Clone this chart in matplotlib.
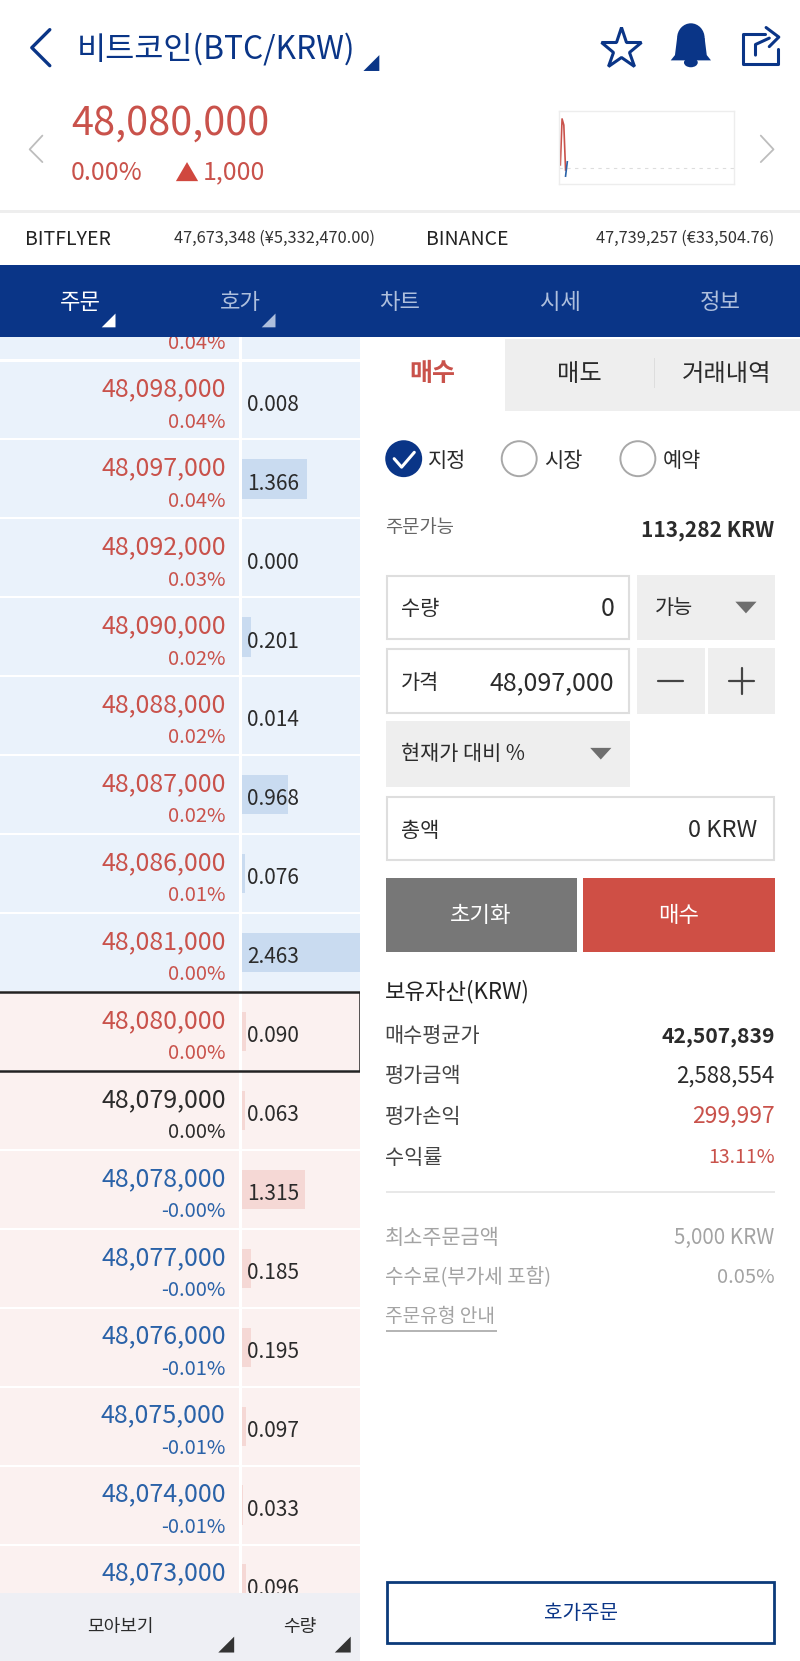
import matplotlib
matplotlib.use("Agg")
import matplotlib.pyplot as plt
from matplotlib.patches import Rectangle, Polygon, Circle, Ellipse

plt.rcParams['font.family'] = ['Noto Sans CJK KR', 'DejaVu Sans']

# ---------- data ----------
prices = ["", "48,098,000", "48,097,000", "48,092,000", "48,090,000", "48,088,000", "48,087,000", "48,086,000",
          "48,081,000", "48,080,000", "48,079,000", "48,078,000", "48,077,000", "48,076,000",
          "48,075,000", "48,074,000", "48,073,000"]
pcts = ["0.04%", "0.04%", "0.04%", "0.03%", "0.02%", "0.02%", "0.02%", "0.01%", "0.00%", "0.00%", "0.00%",
        "-0.00%", "-0.00%", "-0.01%", "-0.01%", "-0.01%", ""]
volumes = [None, 0.008, 1.366, 0.000, 0.201, 0.014, 0.968, 0.076, 2.463, 0.090, 0.063, 1.315, 0.185, 0.195, 0.097, 0.033, 0.096]
price_kinds = ["up"] * 10 + ["flat"] + ["down"] * 6
row_sides = ["buy"] * 9 + ["sell"] * 8

spark_red_x = [0, 1, 2, 3]
spark_red_y = [10, 100, 88, 0]
spark_blue_x = [3, 4]
spark_blue_y = [-12, 16]

tabs = ["주문", "호가", "차트", "시세", "정보"]
holdings = [("매수평균가", "42,507,839"), ("평가금액", "2,588,554"), ("평가손익", "299,997"), ("수익률", "13.11%")]
holding_sizes = [15.2, 16, 16.4, 14]
fees = [("최소주문금액", "5,000 KRW"), ("수수료(부가세 포함)", "0.05%")]

# ---------- colours ----------
NAVY = "#0A3587"
RED = "#C9524B"
BLUE = "#2A62A8"
INK = "#2B2B2B"
GREY = "#EEEEEE"
MUTED = "#A3A3A3"
W, H = 755.0, 1568.0
FW = "light"

fig = plt.figure(figsize=(8.0, 16.61), dpi=100, facecolor="white")
ui = fig.add_axes([0, 0, 1, 1], zorder=1)
ui.set_xlim(0, W); ui.set_ylim(H, 0); ui.axis("off")


def T(x, y, s, size=14, color=INK, ha="left", weight=FW, ax=ui, **kw):
    return ax.text(x, y + 2, s, fontsize=size, color=color, ha=ha, va="center", fontweight=weight, **kw)


def R(x0, y0, x1, y1, fc="none", ec="none", lw=0, ax=ui, z=1):
    ax.add_patch(Rectangle((x0, y0), x1 - x0, y1 - y0, fc=fc, ec=ec, lw=lw, zorder=z))


def TRI(x, y, s, color, ax=ui):  # lower-right corner triangle
    ax.add_patch(Polygon([(x, y), (x - s, y), (x, y - s)], closed=True, fc=color, ec="none", zorder=3))


def L(xs, ys, color, lw=1.5, **kw):
    ui.plot(xs, ys, color=color, lw=lw, solid_capstyle="round", solid_joinstyle="round", **kw)


# ---------- header ----------
L([47, 30, 47], [28, 45, 62], NAVY, 2.4)
T(72, 44, "비트코인(BTC/KRW)", 22.8, NAVY)
TRI(358, 67, 15, NAVY)
ui.plot([586], [46], marker="*", ms=31, mfc="white", mec=NAVY, mew=2.2)
# bell
ui.add_patch(Ellipse((652, 36), 26, 28, fc=NAVY, ec="none"))
ui.add_patch(Polygon([(639, 36), (665, 36), (667, 52), (671, 57), (633, 57), (637, 52)], fc=NAVY, ec="none"))
ui.add_patch(Ellipse((652, 59), 13, 9, fc=NAVY, ec="none"))
# share
L([722, 701, 701, 734, 734], [32, 32, 60, 60, 46], NAVY, 2.2)
L([713, 713, 726], [52, 42, 36], NAVY, 2.2)
L([723, 735, 726], [26, 35, 44], NAVY, 2.2)

T(67, 115, "48,080,000", 28.5, RED)
T(67, 161, "0.00%", 18, RED)
ui.add_patch(Polygon([(166, 171), (187, 171), (176.5, 153)], fc="#D0483F", ec="none"))
T(191, 161, "1,000", 18, RED)
L([40, 28, 40], [128, 141, 153], "#BDBDBD", 1.3)
L([718, 730, 718], [128, 141, 153], "#BDBDBD", 1.3)

# sparkline
sp = fig.add_axes([528 / W, 1 - 174 / H, 165 / W, 69 / H], zorder=2)
sp.set_xlim(-0.5, 100); sp.set_ylim(-28, 115)
sp.set_xticks([]); sp.set_yticks([])
for s in sp.spines.values():
    s.set_color("#EDEDED"); s.set_linewidth(1)
sp.axhline(4, color="#DDDDDD", lw=0.8, ls=(0, (3, 4)))
sp.plot(spark_red_x, spark_red_y, color="#C9524B", lw=1.2)
sp.plot(spark_blue_x, spark_blue_y, color="#2A62A8", lw=1.2)

R(0, 198, W, 201, fc="#EEEEEE")
T(24, 224, "BITFLYER", 14, "#222222", weight="normal")
T(354, 223, "47,673,348 (¥5,332,470.00)", 11.8, "#333333", ha="right")
T(402, 224, "BINANCE", 14, "#222222", weight="normal")
T(731, 223, "47,739,257 (€33,504.76)", 11.8, "#333333", ha="right")

# ---------- nav band ----------
R(0, 250, W, 318, fc=NAVY)
for i, (cx, s) in enumerate(zip([76, 227, 377, 529, 680], tabs)):
    T(cx, 284, s, 16, "white" if i == 0 else "#AEBFDD", ha="center", weight="normal" if i == 0 else FW)
TRI(109, 309, 13, "white")
TRI(260, 309, 13, "#AEBFDD")

# ---------- order book (own axes: x = volume, y = row) ----------
PITCH = 74.53
PX_PER_UNIT = 112 / 2.463
bk = fig.add_axes([0, 1 - 1504 / H, 340 / W, (1504 - 318) / H], zorder=2)
x_left = -228 / PX_PER_UNIT
x_right = 2.463
row0_y = 303.0  # screen centre of first, clipped, row
bk.set_xlim(x_left, x_right)
bk.set_ylim((1504 - row0_y) / PITCH, (318 - row0_y) / PITCH)
bk.axis("off")
gap = 2 / PITCH
for i in range(len(prices)):
    bg = "#EAF2FB" if row_sides[i] == "buy" else "#FBF1F0"
    bk.barh(i, -x_left - 2 / PX_PER_UNIT, left=x_left, height=1 - gap, color=bg, zorder=1)
    bk.barh(i, x_right, left=0, height=1 - gap, color=bg, zorder=1)
    v = volumes[i]
    if v is not None:
        bk.barh(i, v, left=0, height=0.5, color="#C9DBF0" if row_sides[i] == "buy" else "#F5D8D5", zorder=2)
        bk.text(5.5 / PX_PER_UNIT, i + 4.5 / PITCH, f"{v:.3f}", fontsize=15, color=INK, va="center", ha="left",
                fontweight=FW, clip_on=True, zorder=4)
    col = {"up": RED, "flat": INK, "down": BLUE}[price_kinds[i]]
    if prices[i]:
        bk.text(-15 / PX_PER_UNIT, i - 10 / PITCH, prices[i], fontsize=18, color=col, va="center", ha="right",
                fontweight=FW, clip_on=True, zorder=4)
    if pcts[i]:
        bk.text(-15 / PX_PER_UNIT, i + 21 / PITCH, pcts[i], fontsize=14.5, color=col, va="center", ha="right",
                fontweight=FW, clip_on=True, zorder=4)
# current-price outline
cur = prices.index("48,080,000")
bk.add_patch(Rectangle((x_left - 0.1, cur - 0.5), x_right - x_left + 0.1 - 0.01, 1.0, fc="none", ec="#222222", lw=1.8, zorder=5, clip_on=True))

# bottom strip
R(0, 1504, 340, H, fc="#EEEFF4")
T(114, 1534, "모아보기", 13, INK, ha="center")
T(283, 1534, "수량", 13, INK, ha="center")
TRI(221, 1560, 15, "#333333")
TRI(331, 1560, 15, "#333333")

# ---------- order panel ----------
R(477, 320, W, 388, fc=GREY)
R(617, 338, 618.5, 366, fc="#DDDDDD")
T(408, 351, "매수", 18, RED, ha="center", weight="bold")
T(547, 351, "매도", 17.5, INK, ha="center")
T(686, 351, "거래내역", 17.5, INK, ha="center")

for cx, s, on in [(381, "지정", True), (490, "시장", False), (602, "예약", False)]:
    ui.add_patch(Circle((cx, 433), 16.5, fc=NAVY if on else "white", ec=NAVY if on else "#A8A8A8", lw=1.4, zorder=2))
    T(cx + 23, 433, s, 15, INK)
L([372, 379, 391], [433, 441, 427], "white", 2.2, zorder=3)

T(363, 496, "주문가능", 13.5, "#666666")
T(731, 499, "113,282 KRW", 15, INK, ha="right", weight="bold")


def box(x0, y0, x1, y1):
    R(x0, y0, x1, y1, fc="white", ec="#DEDEDE", lw=1.5)


box(365, 544, 594, 603)
R(601, 543, 731, 604, fc=GREY)
T(378, 573, "수량", 15)
T(580, 573, "0", 18, ha="right")
T(618, 572, "가능", 15)
ui.add_patch(Polygon([(694, 568), (714, 568), (704, 579)], fc="#6E6E6E", ec="none", zorder=3))

box(365, 613, 594, 673)
T(378, 643, "가격", 15)
T(580, 643, "48,097,000", 18, ha="right")
R(601, 612, 665, 674, fc=GREY)
R(668, 612, 731, 674, fc=GREY)
L([621, 645], [643, 643], "#444444", 1.6)
L([688, 712], [643, 643], "#444444", 1.6)
L([700, 700], [631, 655], "#444444", 1.6)

R(364, 681, 595, 743, fc=GREY)
T(378, 710, "현재가 대비 %", 15)
ui.add_patch(Polygon([(557, 706), (577, 706), (567, 717)], fc="#6E6E6E", ec="none", zorder=3))

box(365, 752, 730, 812)
T(378, 782, "총액", 15)
T(715, 782, "0 KRW", 17, ha="right")

R(364, 829, 545, 899, fc="#777777")
R(550, 829, 731, 899, fc="#CF4F45")
T(454, 862, "초기화", 16, "white", ha="center", weight="normal")
T(640, 862, "매수", 16, "white", ha="center", weight="normal")

T(363, 934, "보유자산(KRW)", 16, "#222222", weight="normal")
for y, (k, v), col, w, sz in zip([976, 1014, 1052, 1091], holdings, [INK, INK, RED, RED], ["bold", FW, FW, FW], holding_sizes):
    T(363, y, k, 15, "#444444")
    T(731, y, v, sz, col, ha="right", weight=w)
R(364, 1124, 731, 1126, fc="#E8E8E8")
for y, (k, v), ks, vs in zip([1167, 1204], fees, [15, 14.5], [14.8, 14.5]):
    T(363, y, k, ks, MUTED)
    T(731, y, v, vs, MUTED, ha="right")
T(363, 1241, "주문유형 안내", 13.8, MUTED)
R(364, 1256, 469, 1257, fc="#B5B5B5")

R(365, 1493, 730, 1551, fc="white", ec="#0B3A7A", lw=2)
T(548, 1521, "호가주문", 14.5, NAVY, ha="center")

fig.savefig("out.png", dpi=100, facecolor="white")
